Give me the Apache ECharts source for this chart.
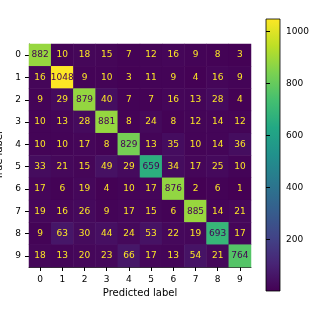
<!DOCTYPE html>
<html>
<head>
<meta charset="utf-8">
<script src="https://cdn.jsdelivr.net/npm/echarts@6/dist/echarts.min.js"></script>
<style>
  html, body { margin: 0; padding: 0; background: #fff; }
  #chartdiv { width: 311px; height: 311px; }
</style>
</head>
<body>
<div id="chartdiv"></div>
<script>
// confusion matrix, rows = true label, cols = predicted label
var labels = ['0', '1', '2', '3', '4', '5', '6', '7', '8', '9'];
var matrix = [
    [882, 10, 18, 15, 7, 12, 16, 9, 8, 3],
    [16, 1048, 9, 10, 3, 11, 9, 4, 16, 9],
    [9, 29, 879, 40, 7, 7, 16, 13, 28, 4],
    [10, 13, 28, 881, 8, 24, 8, 12, 14, 12],
    [10, 10, 17, 8, 829, 13, 35, 10, 14, 36],
    [33, 21, 15, 49, 29, 659, 34, 17, 25, 10],
    [17, 6, 19, 4, 10, 17, 876, 2, 6, 1],
    [19, 16, 26, 9, 17, 15, 6, 885, 14, 21],
    [9, 63, 30, 44, 24, 53, 22, 19, 693, 17],
    [18, 13, 20, 23, 66, 17, 13, 54, 21, 764]
];
var colorbarTicks = [200, 400, 600, 800, 1000];

var viridis = ['#440154', '#482475', '#414487', '#355f8d', '#2a788e', '#21918c',
               '#22a884', '#44bf70', '#7ad151', '#bddf26', '#fde725'];

var vmin = 1, vmax = 1048;
var thresh = (vmin + vmax) / 2;

var cells = [];
for (var r = 0; r < matrix.length; r++) {
    for (var c = 0; c < matrix[r].length; c++) {
        var v = matrix[r][c];
        cells.push({
            value: [c, r, v],
            label: { color: v > thresh ? '#440154' : '#fde725' }
        });
    }
}

// gradient for the colorbar, top = max
var stops = viridis.map(function(col, i) {
    return { offset: 1 - i / (viridis.length - 1), color: col };
}).reverse();

var font = 'DejaVu Sans';
var fs = 9;

var options = {
    animation: false,
    backgroundColor: '#fff',
    textStyle: { fontFamily: font },
    grid: [
        { left: 29, top: 44, width: 222, height: 223, outerBoundsMode: 'none', containLabel: false },
        {
            left: 266, top: 19, width: 14, height: 272,
            outerBoundsMode: 'none', containLabel: false,
            show: true,
            borderColor: '#000',
            borderWidth: 0.8,
            backgroundColor: new echarts.graphic.LinearGradient(0, 0, 0, 1, stops)
        }
    ],
    xAxis: [
        {
            type: 'category',
            data: labels,
            gridIndex: 0,
            name: 'Predicted label',
            nameLocation: 'middle',
            nameGap: 21,
            nameTextStyle: { color: '#000', fontSize: 10, fontFamily: font },
            axisLine: { show: true, lineStyle: { color: '#000', width: 0.8 } },
            axisTick: { show: true, alignWithLabel: true, length: 4, lineStyle: { color: '#000' } },
            axisLabel: { color: '#000', fontSize: fs, margin: 8, fontFamily: font },
            splitLine: { show: false }
        },
        { type: 'value', gridIndex: 1, min: 0, max: 1, show: false }
    ],
    yAxis: [
        {
            type: 'category',
            data: labels,
            inverse: true,
            gridIndex: 0,
            name: 'True label',
            nameLocation: 'middle',
            nameGap: 17,
            nameRotate: 90,
            nameTextStyle: { color: '#000', fontSize: 10, fontFamily: font },
            axisLine: { show: true, lineStyle: { color: '#000', width: 0.8 } },
            axisTick: { show: true, alignWithLabel: true, length: 4, lineStyle: { color: '#000' } },
            axisLabel: { color: '#000', fontSize: fs, margin: 8, fontFamily: font },
            splitLine: { show: false }
        },
        {
            type: 'value',
            gridIndex: 1,
            position: 'right',
            min: vmin,
            max: vmax,
            axisLine: { show: false },
            axisTick: { show: true, length: 4, customValues: colorbarTicks, lineStyle: { color: '#000' } },
            axisLabel: {
                color: '#000', fontSize: fs, margin: 6, customValues: colorbarTicks, fontFamily: font,
                formatter: function(v) { return String(v); }
            },
            splitLine: { show: false }
        }
    ],
    visualMap: {
        type: 'continuous',
        show: false,
        min: vmin,
        max: vmax,
        seriesIndex: 0,
        dimension: 2,
        inRange: { color: viridis }
    },
    series: [
        {
            type: 'heatmap',
            xAxisIndex: 0,
            yAxisIndex: 0,
            data: cells,
            label: {
                show: true,
                fontSize: fs,
                fontFamily: font,
                formatter: function(p) { return p.value[2]; }
            },
            itemStyle: { borderWidth: 0 }
        }
    ]
};

var chartDom = document.getElementById('chartdiv');
var plot = echarts.init(chartDom);
plot.setOption(options);
</script>
</body>
</html>
